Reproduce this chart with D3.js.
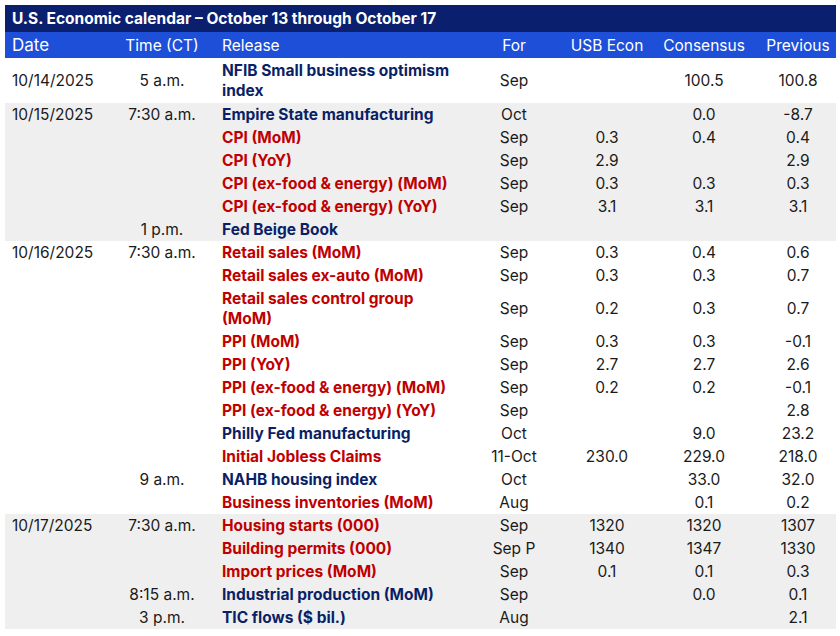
<!DOCTYPE html>
<html><head><meta charset="utf-8">
<script src="https://cdn.jsdelivr.net/npm/d3@7"></script>
<style>body{margin:0;background:#fff}</style></head>
<body><svg id="c" width="840" height="636"></svg>
<script>
const title = "U.S. Economic calendar – October 13 through October 17";
const headers = ["Date","Time (CT)","Release","For","USB Econ","Consensus","Previous"];
const dates = ["10/14/2025","10/15/2025","","","","","","10/16/2025","","","","","","","","","","","10/17/2025","","","",""];
const times = ["5 a.m.","7:30 a.m.","","","","","1 p.m.","7:30 a.m.","","","","","","","","","9 a.m.","","7:30 a.m.","","","8:15 a.m.","3 p.m."];
const releases = [["NFIB Small business optimism","index"],["Empire State manufacturing"],["CPI (MoM)"],["CPI (YoY)"],["CPI (ex-food & energy) (MoM)"],["CPI (ex-food & energy) (YoY)"],["Fed Beige Book"],["Retail sales (MoM)"],["Retail sales ex-auto (MoM)"],["Retail sales control group","(MoM)"],["PPI (MoM)"],["PPI (YoY)"],["PPI (ex-food & energy) (MoM)"],["PPI (ex-food & energy) (YoY)"],["Philly Fed manufacturing"],["Initial Jobless Claims"],["NAHB housing index"],["Business inventories (MoM)"],["Housing starts (000)"],["Building permits (000)"],["Import prices (MoM)"],["Industrial production (MoM)"],["TIC flows ($ bil.)"]];
const redRelease = [0,0,1,1,1,1,0,1,1,1,1,1,1,1,0,1,0,1,1,1,1,0,0];
const forPeriod = ["Sep","Oct","Sep","Sep","Sep","Sep","","Sep","Sep","Sep","Sep","Sep","Sep","Sep","Oct","11-Oct","Oct","Aug","Sep","Sep P","Sep","Sep","Aug"];
const usbEcon = ["","","0.3","2.9","0.3","3.1","","0.3","0.3","0.2","0.3","2.7","0.2","","","230.0","","","1320","1340","0.1","",""];
const consensus = ["100.5","0.0","0.4","","0.3","3.1","","0.4","0.3","0.3","0.3","2.7","0.2","","9.0","229.0","33.0","0.1","1320","1347","0.1","0.0",""];
const previous = ["100.8","-8.7","0.4","2.9","0.3","3.1","","0.6","0.7","0.7","-0.1","2.6","-0.1","2.8","23.2","218.0","32.0","0.2","1307","1330","0.3","0.1","2.1"];
const groupOf = [0,1,1,1,1,1,1,2,2,2,2,2,2,2,2,2,2,2,3,3,3,3,3];

const svg = d3.select("#c");
const F = "Inter, 'Open Sans', sans-serif";
const navy = "#0b1f66", red = "#c00000", txt = "#1a1a1a";
svg.append("rect").attr("x",5).attr("y",5).attr("width",831).attr("height",27).attr("fill","#0a1f6e");
svg.append("text").attr("x",12).attr("y",24).attr("fill","#fff").attr("font-family",F).attr("font-weight",700).attr("font-size",15.5).text(title);
svg.append("rect").attr("x",5).attr("y",32).attr("width",831).attr("height",26).attr("fill","#1d4fd8");
const hx = [12,162,222,514,607,704,798], ha=["start","middle","start","middle","middle","middle","middle"];
headers.forEach((h,i)=>svg.append("text").attr("x",hx[i]).attr("y",51).attr("text-anchor",ha[i]).attr("fill","#fff").attr("font-family",F).attr("font-size",i==0?17:15.5).text(h));

const lh = 23, top0 = 58;
let y = top0; const ys=[], hs=[];
releases.forEach(r=>{ys.push(y); const h = r.length*lh - (r.length>1?(r.length-1)*3:0); hs.push(h<lh?lh:h); y+=hs[hs.length-1];});
ys[0]=top0; hs[0]=45; for(let i=1;i<ys.length;i++) ys[i]=ys[i-1]+hs[i-1];
// group backgrounds
[0,1,2,3].forEach(g=>{const idx=groupOf.map((v,i)=>v==g?i:-1).filter(i=>i>=0);
  const y0=ys[idx[0]], y1=ys[idx[idx.length-1]]+hs[idx[idx.length-1]];
  svg.append("rect").attr("x",5).attr("y",y0).attr("width",831).attr("height",y1-y0).attr("fill",g%2?"#efefef":"#fff");});
const cols=[[dates,12,"start"],[times,162,"middle"],[forPeriod,514,"middle"],[usbEcon,607,"middle"],[consensus,704,"middle"],[previous,798,"middle"]];
releases.forEach((r,i)=>{
  const cy = ys[i]+hs[i]/2+5.5;
  cols.forEach(([arr,x,a])=>{ if(arr[i]) svg.append("text").attr("x",x).attr("y",cy).attr("text-anchor",a).attr("fill",txt).attr("font-family",F).attr("font-size",15.5).text(arr[i]);});
  const t = svg.append("text").attr("x",222).attr("fill",redRelease[i]?red:navy).attr("font-family",F).attr("font-weight",700).attr("font-size",15.5);
  r.forEach((line,k)=>t.append("tspan").attr("x",222).attr("y",cy-(r.length-1)*10+k*20).text(line));
});
</script></body></html>
